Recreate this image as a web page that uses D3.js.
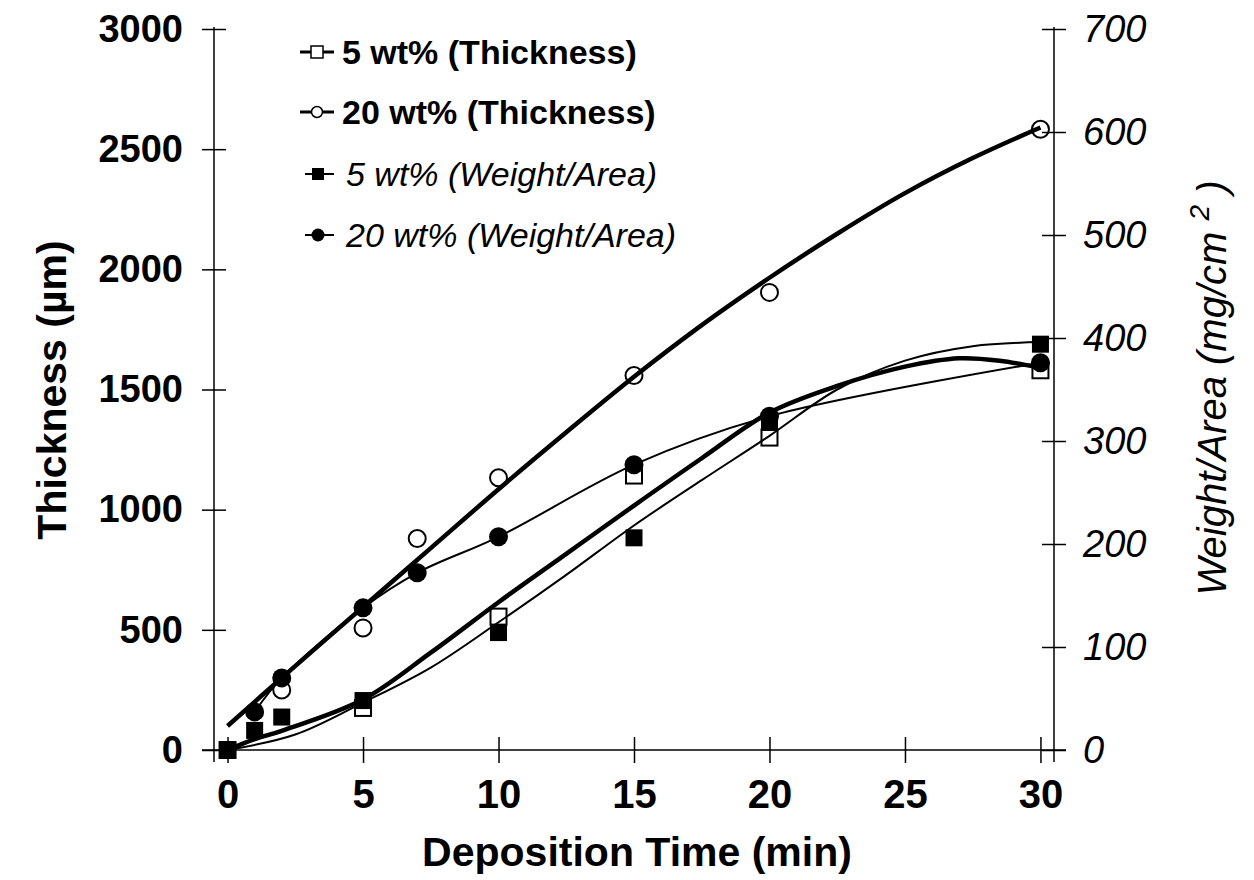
<!DOCTYPE html>
<html lang="en">
<head>
<meta charset="UTF-8" />
<title>Thickness and Weight/Area vs Deposition Time</title>
<style>
  html, body { margin: 0; padding: 0; background: #fff; }
  svg { display: block; }
  text { font-family: "Liberation Sans", Arial, sans-serif; fill: #000; }
</style>
</head>
<body>
<svg id="chart" width="1254" height="880"></svg>
<script src="https://cdn.jsdelivr.net/npm/d3@7"></script>
<script>
const time5Thick = [0, 5, 10, 15, 20, 30];
const thick5 = [0, 175, 555, 1142, 1300, 1580];
const time20Thick = [2, 5, 7, 10, 15, 20, 30];
const thick20 = [250, 508, 880, 1133, 1558, 1904, 2583];
const time5Weight = [0, 1, 2, 5, 10, 15, 20, 30];
const weight5 = [0, 19, 32, 48, 114, 206, 318, 394];
const time20Weight = [1, 2, 5, 7, 10, 15, 20, 30];
const weight20 = [37, 70, 138, 172, 207, 277, 324, 376];

// smoothed trend curves
const fit20ThickTime = [0, 2, 5, 7.5, 10, 12.5, 15, 17.5, 20, 22.5, 25, 27.5, 30];
const fit20ThickVal = [100, 300, 595, 840, 1085, 1322, 1553, 1768, 1965, 2148, 2317, 2463, 2590];
const fit5ThickTime = [0, 1, 2, 5, 7.5, 10, 12.5, 15, 17.5, 20, 22.5, 25, 27, 28.5, 30];
const fit5ThickVal = [0, 45, 80, 210, 405, 615, 816, 1017, 1214, 1404, 1515, 1595, 1630, 1620, 1590];
const fit5WeightTime = [0, 2.5, 5, 7.5, 10, 12.5, 15, 17.5, 20, 22.5, 25, 27.5, 30];
const fit5WeightVal = [0, 15, 46, 80, 124, 170, 218, 262, 305, 350, 378, 392, 396];

// axis ticks
const timeTicks = [0, 5, 10, 15, 20, 25, 30];
const thickTicks = [0, 500, 1000, 1500, 2000, 2500, 3000];
const weightTicks = [0, 100, 200, 300, 400, 500, 600, 700];

const legendLabels = [
  "5 wt% (Thickness)",
  "20 wt% (Thickness)",
  "5 wt% (Weight/Area)",
  "20 wt% (Weight/Area)"
];

const svg = d3.select("#chart");
const plotLeft = 214, plotRight = 1054, plotTop = 29, plotBottom = 750;

const x = d3.scaleLinear().domain([-0.5, 30.5]).range([plotLeft, plotRight]);
const yL = d3.scaleLinear().domain([0, 3000]).range([plotBottom, plotTop]);
const yR = d3.scaleLinear().domain([0, 700]).range([plotBottom, plotTop]);

const zip = (a, b) => a.map((t, i) => [t, b[i]]);
const FONT = '"Liberation Sans", Arial, sans-serif';

// axis lines
svg.append("line").attr("x1", plotLeft).attr("x2", plotLeft).attr("y1", plotTop - 2).attr("y2", plotBottom + 12)
  .attr("stroke", "#000").attr("stroke-width", 1.5);
svg.append("line").attr("x1", plotRight).attr("x2", plotRight).attr("y1", plotTop - 2).attr("y2", plotBottom + 12)
  .attr("stroke", "#000").attr("stroke-width", 1.5);
svg.append("line").attr("x1", plotLeft - 12).attr("x2", plotRight + 12).attr("y1", plotBottom).attr("y2", plotBottom)
  .attr("stroke", "#000").attr("stroke-width", 1.5);

// left axis
svg.append("g")
  .attr("transform", `translate(${plotLeft},0)`)
  .call(d3.axisLeft(yL).tickValues(thickTicks).tickFormat(d3.format("d")).tickSize(0).tickPadding(31))
  .call(g => g.select(".domain").remove())
  .call(g => g.selectAll(".tick line").attr("x1", -12).attr("x2", 12).attr("stroke-width", 1.5))
  .call(g => g.selectAll(".tick text").attr("font-size", 38).attr("font-weight", "bold")
    .attr("font-family", FONT).attr("fill", "#000"));

// right axis
svg.append("g")
  .attr("transform", `translate(${plotRight},0)`)
  .call(d3.axisRight(yR).tickValues(weightTicks).tickFormat(d3.format("d")).tickSize(0).tickPadding(29))
  .call(g => g.select(".domain").remove())
  .call(g => g.selectAll(".tick line").attr("x1", -12).attr("x2", 12).attr("stroke-width", 1.5))
  .call(g => g.selectAll(".tick text").attr("font-size", 38).attr("font-style", "italic")
    .attr("font-family", FONT).attr("fill", "#000"));

// bottom axis
svg.append("g")
  .attr("transform", `translate(0,${plotBottom})`)
  .call(d3.axisBottom(x).tickValues(timeTicks).tickSize(0).tickPadding(30))
  .call(g => g.select(".domain").remove())
  .call(g => g.selectAll(".tick line").attr("y1", -13).attr("y2", 13).attr("stroke-width", 1.5))
  .call(g => g.selectAll(".tick text").attr("font-size", 40).attr("font-weight", "bold")
    .attr("font-family", FONT).attr("fill", "#000"));

// axis titles
svg.append("text")
  .attr("x", 637).attr("y", 866)
  .attr("text-anchor", "middle")
  .attr("font-size", 41).attr("font-weight", "bold")
  .text("Deposition Time (min)");

svg.append("text")
  .attr("transform", "translate(66,390) rotate(-90)")
  .attr("text-anchor", "middle")
  .attr("font-size", 41).attr("font-weight", "bold")
  .text("Thickness (µm)");

const rt = svg.append("text")
  .attr("transform", "translate(1226,388) rotate(-90)")
  .attr("text-anchor", "middle")
  .attr("font-size", 40).attr("font-style", "italic");
rt.append("tspan").text("Weight/Area (mg/cm ");
rt.append("tspan").attr("dy", -17).attr("font-size", 28).text("2");
rt.append("tspan").attr("dy", 17).text(" )");

// curves
const lineL = d3.line().x(d => x(d[0])).y(d => yL(d[1])).curve(d3.curveCatmullRom.alpha(0.5));
const lineR = d3.line().x(d => x(d[0])).y(d => yR(d[1])).curve(d3.curveCatmullRom.alpha(0.5));

svg.append("path").attr("d", lineL(zip(fit20ThickTime, fit20ThickVal)))
  .attr("fill", "none").attr("stroke", "#000").attr("stroke-width", 4.5);
svg.append("path").attr("d", lineL(zip(fit5ThickTime, fit5ThickVal)))
  .attr("fill", "none").attr("stroke", "#000").attr("stroke-width", 4.5);
svg.append("path").attr("d", lineR(zip(fit5WeightTime, fit5WeightVal)))
  .attr("fill", "none").attr("stroke", "#000").attr("stroke-width", 2);
svg.append("path").attr("d", lineR(zip(time20Weight, weight20)))
  .attr("fill", "none").attr("stroke", "#000").attr("stroke-width", 2);

// markers
svg.append("g").selectAll("rect").data(zip(time5Thick, thick5)).join("rect")
  .attr("x", d => x(d[0]) - 8).attr("y", d => yL(d[1]) - 8)
  .attr("width", 16).attr("height", 16)
  .attr("fill", "none").attr("stroke", "#000").attr("stroke-width", 2);

svg.append("g").selectAll("circle").data(zip(time20Thick, thick20)).join("circle")
  .attr("cx", d => x(d[0])).attr("cy", d => yL(d[1])).attr("r", 8.5)
  .attr("fill", "none").attr("stroke", "#000").attr("stroke-width", 2);

svg.append("g").selectAll("rect").data(zip(time5Weight, weight5)).join("rect")
  .attr("x", d => x(d[0]) - 8.5).attr("y", d => yR(d[1]) - 8.5)
  .attr("width", 17).attr("height", 17).attr("fill", "#000");

svg.append("g").selectAll("circle").data(zip(time20Weight, weight20)).join("circle")
  .attr("cx", d => x(d[0])).attr("cy", d => yR(d[1])).attr("r", 9.5)
  .attr("fill", "#000");

// legend
const legendY = [52, 112, 174, 235];
const legend = svg.append("g");
legendLabels.forEach((label, i) => {
  const y = legendY[i];
  const bold = i < 2;
  legend.append("line")
    .attr("x1", bold ? 300 : 305).attr("x2", 334).attr("y1", y).attr("y2", y)
    .attr("stroke", "#000").attr("stroke-width", bold ? 3 : 2);
  if (i === 0) {
    legend.append("rect").attr("x", 311).attr("y", y - 6).attr("width", 12).attr("height", 12)
      .attr("fill", "#fff").attr("stroke", "#000").attr("stroke-width", 1.5);
  } else if (i === 1) {
    legend.append("circle").attr("cx", 317).attr("cy", y).attr("r", 5.5)
      .attr("fill", "#fff").attr("stroke", "#000").attr("stroke-width", 1.5);
  } else if (i === 2) {
    legend.append("rect").attr("x", 312).attr("y", y - 6).attr("width", 12).attr("height", 12)
      .attr("fill", "#000");
  } else {
    legend.append("circle").attr("cx", 318).attr("cy", y).attr("r", 6.5).attr("fill", "#000");
  }
  legend.append("text")
    .attr("x", bold ? 342 : 346).attr("y", y + 12)
    .attr("font-size", 34)
    .attr("font-weight", bold ? "bold" : "normal")
    .attr("font-style", bold ? "normal" : "italic")
    .text(label);
});
</script>
</body>
</html>
